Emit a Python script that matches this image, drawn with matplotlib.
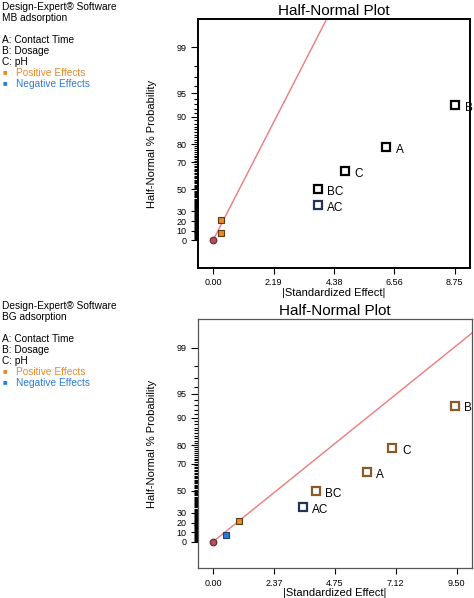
import numpy as np
import matplotlib
matplotlib.use("Agg")
import matplotlib.pyplot as plt
from statistics import NormalDist

plt.rcParams['font.family'] = ['Liberation Sans', 'DejaVu Sans']

# --- data ---
# half-normal probability (%) and |standardized effect|
mb_labels = ["B", "A", "C", "BC", "AC", "", "", ""]
mb_effect = [8.75, 6.26, 4.77, 3.78, 3.78, 0.27, 0.27, 0.0]
mb_prob = [92.9, 78.6, 64.3, 50.0, 35.7, 21.4, 7.1, 0.0]
mb_kind = ["big", "big", "big", "big", "neg_big", "pos", "pos", "err"]
mb_slope = 0.718   # fitted line, z per unit effect
mb_xticks = [0.00, 2.19, 4.38, 6.56, 8.75]

bg_labels = ["B", "C", "A", "BC", "AC", "", "", ""]
bg_effect = [9.43, 6.99, 5.99, 4.00, 3.49, 1.02, 0.52, 0.0]
bg_prob = [92.9, 78.6, 64.3, 50.0, 35.7, 21.4, 7.1, 0.0]
bg_kind = ["pos_big", "pos_big", "pos_big", "pos_big", "neg_big", "pos", "neg", "err"]
bg_slope = 0.274
bg_xticks = [0.00, 2.37, 4.75, 7.12, 9.50]

prob_ticks = [0, 10, 20, 30, 50, 70, 80, 90, 95, 99]
factor_lines = ["A: Contact Time", "B: Dosage", "C: pH"]


def hn(p):
    # half-normal quantile for a percentage
    p = np.atleast_1d(p)
    return np.array([NormalDist().inv_cdf(0.5 + v / 200.0) for v in p])


styles = {
    "big": dict(marker='s', ms=5.8, mfc='white', mec='black', mew=1.6),
    "pos_big": dict(marker='s', ms=5.8, mfc='white', mec='#8a5a2b', mew=1.6),
    "neg_big": dict(marker='s', ms=5.8, mfc='white', mec='#1f3559', mew=1.6),
    "pos": dict(marker='s', ms=4.2, mfc='#e8892a', mec='#5a3a10', mew=0.8),
    "neg": dict(marker='s', ms=4.2, mfc='#2b7bd6', mec='#1d3f70', mew=0.8),
    "err": dict(marker='o', ms=4.8, mfc='#b3505a', mec='#5a2a30', mew=0.8),
}


def panel(fig, rect, title, effect, prob, kind, labels, slope, xticks, xlim, ylim, frame_col, frame_lw):
    ax = fig.add_axes(rect)
    z = hn(prob)
    xs = np.linspace(0, xlim[1], 50)
    ax.plot(xs, slope * xs, color='#ee7b7b', lw=1.0, zorder=1)
    for x, y, k, lab in zip(effect, z, kind, labels):
        ax.plot(x, y, linestyle='none', zorder=3, **styles[k])
        if lab:
            ax.annotate(lab, (x, y), xytext=(7, -2), textcoords='offset points',
                        ha='left', va='center', fontsize=8.5)
    ax.set_xlim(xlim)
    ax.set_ylim(ylim)
    ax.set_xticks(xticks)
    ax.set_xticklabels([f"{v:.2f}" for v in xticks], fontsize=6.5)
    ax.set_yticks(hn(prob_ticks))
    ax.set_yticklabels([str(v) for v in prob_ticks], fontsize=6.5)
    minor = [v for v in range(1, 99) if v not in prob_ticks]
    ax.set_yticks(hn(minor), minor=True)
    ax.tick_params(axis='y', which='major', length=5, width=0.8)
    ax.tick_params(axis='y', which='minor', length=3, width=0.8)
    ax.tick_params(axis='x', length=4, width=0.8)
    for s in ax.spines.values():
        s.set_color(frame_col)
        s.set_linewidth(frame_lw)
    ax.set_title(title, fontsize=11, pad=3)
    ax.set_xlabel("|Standardized Effect|", fontsize=8, labelpad=0.5)
    ax.set_ylabel("Half-Normal % Probability", fontsize=8, labelpad=14)
    return ax


fig = plt.figure(figsize=(4.74, 5.98), dpi=100)

panel(fig, [0.4177, 0.5518, 0.5739, 0.4164], "Half-Normal Plot",
      mb_effect, mb_prob, mb_kind, mb_labels, mb_slope, mb_xticks,
      (-0.55, 9.30), (-0.374, 2.95), 'black', 1.4)
panel(fig, [0.4184, 0.0497, 0.5766, 0.4163], "Half-Normal Plot",
      bg_effect, bg_prob, bg_kind, bg_labels, bg_slope, bg_xticks,
      (-0.58, 10.09), (-0.353, 2.95), '#555555', 0.9)


def side_text(top_px, name):
    H = 598.0
    rows = [("Design-Expert\u00ae Software", 0), (name, 11),
            (factor_lines[0], 33), (factor_lines[1], 44), (factor_lines[2], 55)]
    for txt, dy in rows:
        fig.text(0.004, 1 - (top_px + dy) / H, txt, fontsize=7.3, va='center', ha='left')
    for lab, col, dy in [("Positive Effects", '#e8892a', 66), ("Negative Effects", '#2b7bd6', 77)]:
        fig.text(0.006, 1 - (top_px + dy) / H, "\u25a0", fontsize=5.5, va='center', ha='left', color=col)
        fig.text(0.033, 1 - (top_px + dy) / H, lab, fontsize=7.3, va='center', ha='left', color=col)


side_text(7, "MB adsorption")
side_text(306, "BG adsorption")

fig.savefig("out.png", dpi=100)
